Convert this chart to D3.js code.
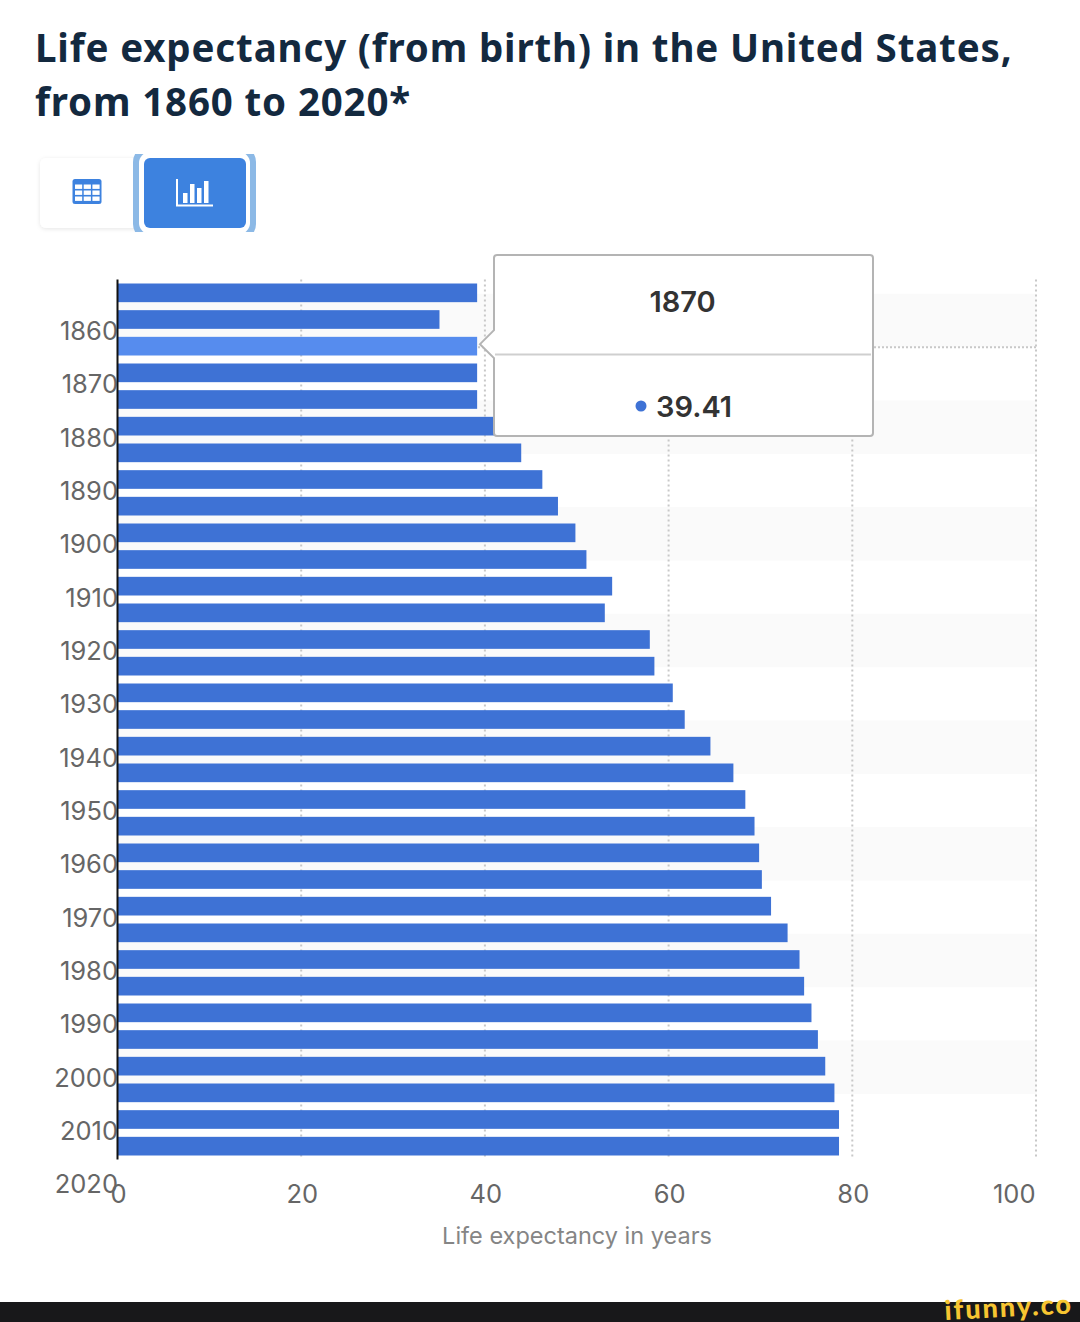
<!DOCTYPE html>
<html>
<head>
<meta charset="utf-8">
<script src="https://cdn.jsdelivr.net/npm/d3@7"></script>
<style>
  html, body { margin: 0; padding: 0; background: #fff; }
  svg { display: block; }
  .tick-text { font-family: Inter, sans-serif; fill: #666; }
</style>
</head>
<body>
<script>
var years = [1860,1865,1870,1875,1880,1885,1890,1895,1900,1905,1910,1915,1920,1925,1930,1935,
             1940,1945,1950,1955,1960,1965,1970,1975,1980,1985,1990,1995,2000,2005,2010,2015,2020];
// read off the bar ends; 1885 is partly behind the tooltip so it is a guess
var lifeExpectancy = [39.1,35,39.1,39.1,39.1,41.5,43.9,46.2,47.9,49.8,51,53.8,53,57.9,58.4,60.4,
                      61.7,64.5,67,68.3,69.3,69.8,70.1,71.1,72.9,74.2,74.7,75.5,76.2,77,78,78.5,78.5];
var yearTicks = [1860,1870,1880,1890,1900,1910,1920,1930,1940,1950,1960,1970,1980,1990,2000,2010,2020];
var valueTicks = [0,20,40,60,80,100];
var stripeStarts = [1860,1880,1900,1920,1940,1960,1980,2000];
var titleLines = ['Life expectancy (from birth) in the United States,', 'from 1860 to 2020*'];
var axisTitle = 'Life expectancy in years';
var activeYear = 1870;
var activeLabel = '39.41';

var width = 1080, height = 1322;
var plotLeft = 118, plotRight = 1036.5, plotTop = 279.5, plotBottom = 1159.5;

var svg = d3.select('body').append('svg')
    .attr('width', width)
    .attr('height', height);

var x = d3.scaleLinear().domain([0, 100]).range([plotLeft, plotRight]);
var y = d3.scaleBand().domain(years).range([plotTop, plotBottom]).paddingInner(0.3).paddingOuter(0.15);
function yMid(year) { return y(year) + y.bandwidth() / 2; }

// title
svg.append('g').selectAll('text')
    .data(titleLines)
    .enter()
    .append('text')
        .attr('x', 35)
        .attr('y', function (d, i) { return 62 + i * 54; })
        .attr('font-family', '"Noto Sans", sans-serif')
        .attr('font-weight', 700)
        .attr('font-size', 38.5)
        .attr('letter-spacing', 0.85)
        .attr('fill', '#13293f')
        .text(function (d) { return d; });

// view switch buttons
var defs = svg.append('defs');
var blur = defs.append('filter').attr('id', 'soft').attr('x', '-20%').attr('y', '-20%').attr('width', '140%').attr('height', '140%');
blur.append('feDropShadow').attr('dx', 0).attr('dy', 1).attr('stdDeviation', 2).attr('flood-color', '#000').attr('flood-opacity', 0.1);
defs.append('clipPath').attr('id', 'tabClip').append('rect').attr('x', 125).attr('y', 154).attr('width', 140).attr('height', 78);

var tabs = svg.append('g');
tabs.append('rect').attr('x', 40).attr('y', 158).attr('width', 110).attr('height', 70).attr('rx', 6)
    .attr('fill', '#fff').attr('filter', 'url(#soft)');
tabs.append('rect').attr('x', 133).attr('y', 146).attr('width', 123).attr('height', 94).attr('rx', 16)
    .attr('fill', '#8cb9e6').attr('clip-path', 'url(#tabClip)');
tabs.append('rect').attr('x', 139).attr('y', 152).attr('width', 111).attr('height', 82).attr('rx', 11)
    .attr('fill', '#fff').attr('clip-path', 'url(#tabClip)');
tabs.append('rect').attr('x', 144).attr('y', 158).attr('width', 102).attr('height', 70).attr('rx', 6)
    .attr('fill', '#3d82df');

// table icon
tabs.append('rect').attr('x', 72.5).attr('y', 179).attr('width', 29).attr('height', 25).attr('rx', 2.5).attr('fill', '#3d82df');
d3.range(3).forEach(function (col) {
    d3.range(3).forEach(function (row) {
        tabs.append('rect')
            .attr('x', 75 + col * 8.7)
            .attr('y', 184.5 + row * 6)
            .attr('width', 7.2)
            .attr('height', 4.4)
            .attr('fill', '#fff');
    });
});

// chart icon
tabs.append('path').attr('d', 'M177 179V205.5H213').attr('fill', 'none').attr('stroke', '#fff').attr('stroke-width', 2);
[[183, 193], [190, 184], [197, 188], [204, 181]].forEach(function (b) {
    tabs.append('rect').attr('x', b[0]).attr('y', b[1]).attr('width', 4.5).attr('height', 203 - b[1]).attr('fill', '#fff');
});

// stripes behind the bars
svg.append('g').selectAll('rect')
    .data(stripeStarts)
    .enter()
    .append('rect')
        .attr('x', x(0))
        .attr('y', function (d) { return yMid(d) + 1; })
        .attr('width', x(100) - x(0))
        .attr('height', function (d) { return yMid(d + 10) - yMid(d); })
        .attr('fill', '#fafafa');

// dotted grid
svg.append('g').selectAll('line')
    .data(valueTicks.slice(1))
    .enter()
    .append('line')
        .attr('x1', function (d) { return x(d) - 0.5; })
        .attr('x2', function (d) { return x(d) - 0.5; })
        .attr('y1', plotTop)
        .attr('y2', plotBottom)
        .attr('stroke', '#c8c8c8')
        .attr('stroke-width', 2)
        .attr('stroke-dasharray', '2 3');

// hover crosshair
svg.append('line')
    .attr('x1', x(0))
    .attr('x2', x(100))
    .attr('y1', yMid(activeYear) + 1)
    .attr('y2', yMid(activeYear) + 1)
    .attr('stroke', '#c8c8c8')
    .attr('stroke-width', 2)
    .attr('stroke-dasharray', '2 2');

// bars
svg.append('g').selectAll('rect')
    .data(years)
    .enter()
    .append('rect')
        .attr('x', x(0))
        .attr('y', function (d) { return y(d); })
        .attr('width', function (d, i) { return x(lifeExpectancy[i]) - x(0); })
        .attr('height', y.bandwidth())
        .attr('fill', function (d) { return d === activeYear ? '#568cee' : '#3e72d5'; });

// year axis, labels sit below their band like in the original
var yAxis = d3.axisLeft(y).tickValues(yearTicks).tickSize(0).tickPadding(0);
var yG = svg.append('g').attr('transform', 'translate(' + plotLeft + ',0)').call(yAxis);
yG.select('.domain').remove();
yG.selectAll('text')
    .attr('class', 'tick-text')
    .attr('font-size', 25.5)
    .attr('dy', null)
    .attr('y', 47);

svg.append('line')
    .attr('x1', plotLeft - 0.5).attr('x2', plotLeft - 0.5)
    .attr('y1', plotTop).attr('y2', plotBottom)
    .attr('stroke', '#111')
    .attr('stroke-width', 2);

// value axis
var xAxis = d3.axisBottom(x).tickValues(valueTicks).tickSize(0).tickPadding(0);
var xG = svg.append('g').attr('transform', 'translate(0,' + plotBottom + ')').call(xAxis);
xG.select('.domain').remove();
xG.selectAll('text')
    .attr('class', 'tick-text')
    .attr('font-size', 25.5)
    .attr('dy', null)
    .attr('y', 43.5)
    .attr('x', function (d) { return d === 100 ? -1.5 : 0; })
    .attr('text-anchor', function (d) { return d === 100 ? 'end' : 'middle'; });

svg.append('text')
    .attr('x', 577)
    .attr('y', 1244)
    .attr('text-anchor', 'middle')
    .attr('font-family', 'Inter, sans-serif')
    .attr('font-size', 23.5)
    .attr('fill', '#858585')
    .text(axisTitle);

// tooltip
var tip = svg.append('g');
var arrowY = yMid(activeYear) - 2;
tip.append('path')
    .attr('d', 'M497 255H870a3 3 0 0 1 3 3V433a3 3 0 0 1 -3 3H497a3 3 0 0 1 -3 -3V' + (arrowY + 14) +
         'L480 ' + arrowY + 'L494 ' + (arrowY - 14) + 'V258a3 3 0 0 1 3 -3Z')
    .attr('fill', '#fff')
    .attr('stroke', '#b4b4b4')
    .attr('stroke-width', 2);
tip.append('line')
    .attr('x1', 495).attr('x2', 871)
    .attr('y1', 354.5).attr('y2', 354.5)
    .attr('stroke', '#cfcfcf')
    .attr('stroke-width', 2);
tip.append('text')
    .attr('x', 682.5)
    .attr('y', 312)
    .attr('text-anchor', 'middle')
    .attr('font-family', 'Inter, sans-serif')
    .attr('font-weight', 600)
    .attr('font-size', 29)
    .attr('fill', '#333')
    .text(activeYear);
tip.append('circle').attr('cx', 641).attr('cy', 406).attr('r', 5.5).attr('fill', '#3e72d5');
tip.append('text')
    .attr('x', 656)
    .attr('y', 417)
    .attr('font-family', 'Inter, sans-serif')
    .attr('font-weight', 600)
    .attr('font-size', 29)
    .attr('fill', '#333')
    .text(activeLabel);

// watermark strip
svg.append('rect').attr('x', 0).attr('y', 1302).attr('width', width).attr('height', 20).attr('fill', '#18181a');
svg.append('text')
    .attr('transform', 'translate(945,1320) rotate(-3)')
    .attr('font-family', 'Lato, sans-serif')
    .attr('font-weight', 900)
    .attr('font-size', 27)
    .attr('letter-spacing', 2)
    .attr('fill', '#f7c531')
    .text('ifunny.co');
</script>
</body>
</html>
